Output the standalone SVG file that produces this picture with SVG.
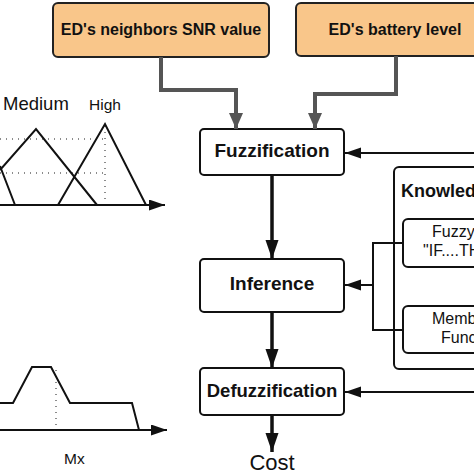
<svg xmlns="http://www.w3.org/2000/svg" width="474" height="474" viewBox="0 0 474 474">
<style>
.box{fill:#fff;stroke:#111;stroke-width:2}
.inbox{fill:#f9c68a;stroke:#222;stroke-width:2}
.bt{font-family:"Liberation Sans",Arial,sans-serif;font-weight:bold;fill:#111}
.rt{font-family:"Liberation Sans",Arial,sans-serif;fill:#111}
.gl{fill:none;stroke:#555;stroke-width:4}
.kl{fill:none;stroke:#111;stroke-width:3.5}
.tl{fill:none;stroke:#111;stroke-width:2}
.ch{fill:none;stroke:#111;stroke-width:2}
.dt{fill:none;stroke:#666;stroke-width:1.5;stroke-dasharray:1 5}
</style>
<defs>
<marker id="ag" markerUnits="userSpaceOnUse" markerWidth="16" markerHeight="18" refX="16" refY="7" orient="auto"><path d="M0,0 L16,7 L0,14 Z" fill="#555"/></marker>
<marker id="ak" markerUnits="userSpaceOnUse" markerWidth="20" markerHeight="14" refX="19" refY="6.5" orient="auto"><path d="M0,0 L19,6.5 L0,13 Z" fill="#111"/></marker>
<marker id="as" markerUnits="userSpaceOnUse" markerWidth="17" markerHeight="12" refX="16" refY="5.5" orient="auto"><path d="M0,0 L16,5.5 L0,11 Z" fill="#111"/></marker>
</defs>

<!-- left charts -->
<g id="chart-top">
<text class="rt" x="3" y="110" font-size="18.5">Medium</text>
<text class="rt" x="89" y="110" font-size="15.5">High</text>
<path class="dt" d="M0,139 H105 M0,173 H105 M105,126 V207"/>
<path class="ch" d="M0,170 L36,129 L97,205 M0,166 L15,205 M58,205 L105,124 L146,205"/>
<path class="ch" d="M0,205 H165" marker-end="url(#as)"/>
</g>
<g id="chart-bottom">
<path class="dt" d="M56,370 V430"/>
<path class="ch" d="M0,403 H13 L32,367 H51 L70,403 H132 L139,430"/>
<path class="ch" d="M0,430 H167" marker-end="url(#as)"/>
<text class="rt" x="64" y="464" font-size="15.5">Mx</text>
</g>

<!-- nodes -->
<g id="snr">
<rect class="inbox" x="53" y="3" width="216" height="54" rx="5"/>
<text class="bt" x="161" y="35" font-size="16" text-anchor="middle">ED's neighbors SNR value</text>
</g>
<g id="battery">
<rect class="inbox" x="296" y="3" width="200" height="53" rx="5"/>
<text class="bt" x="395" y="35" font-size="16" text-anchor="middle">ED's battery level</text>
</g>
<g id="fuzzification">
<rect class="box" x="200" y="129" width="144" height="46" rx="4"/>
<text class="bt" x="272" y="157" font-size="19" text-anchor="middle">Fuzzification</text>
</g>
<g id="inference">
<rect class="box" x="200" y="259" width="144" height="53" rx="4"/>
<text class="bt" x="272" y="290" font-size="19" text-anchor="middle">Inference</text>
</g>
<g id="defuzzification">
<rect class="box" x="200" y="368" width="144" height="47" rx="4"/>
<text class="bt" x="272" y="397" font-size="18.5" text-anchor="middle">Defuzzification</text>
</g>
<g id="cost">
<text class="rt" x="272" y="470" font-size="22" text-anchor="middle">Cost</text>
</g>
<g id="knowledge">
<rect class="box" x="394" y="167" width="120" height="202" rx="5"/>
<text class="bt" x="401" y="197" font-size="18">Knowledge Base</text>
</g>
<g id="rules">
<rect class="box" x="403" y="219" width="100" height="48" rx="5"/>
<text class="rt" x="432" y="237" font-size="16">Fuzzy Rules</text>
<text class="rt" x="423" y="256" font-size="16">"IF....THEN"</text>
</g>
<g id="membership">
<rect class="box" x="403" y="306" width="100" height="47" rx="5"/>
<text class="rt" x="432" y="324" font-size="16">Membership</text>
<text class="rt" x="441" y="343" font-size="16">Functions</text>
</g>

<!-- connectors -->
<g id="connectors">
<path class="gl" d="M161,57 V90 H236 V129" marker-end="url(#ag)"/>
<path class="gl" d="M396,56 V94 H315 V129" marker-end="url(#ag)"/>
<path class="kl" d="M272,175 V259" marker-end="url(#ak)"/>
<path class="kl" d="M272,312 V368" marker-end="url(#ak)"/>
<path class="kl" d="M272,415 V452" marker-end="url(#ak)"/>
<path class="tl" d="M474,153 H345" marker-end="url(#as)"/>
<path class="tl" d="M474,392 H345" marker-end="url(#as)"/>
<path class="tl" d="M403,243 H373 V330 H403"/>
<path class="tl" d="M373,285 H345" marker-end="url(#as)"/>
</g>
</svg>
